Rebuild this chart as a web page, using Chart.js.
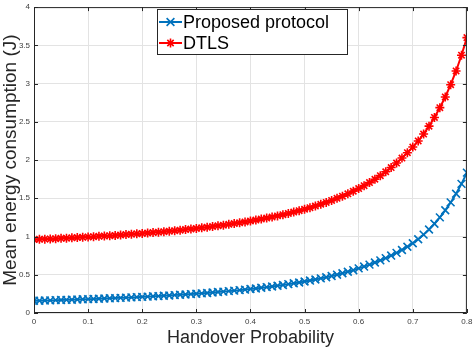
<!DOCTYPE html>
<html>
<head>
<meta charset="utf-8">
<script src="https://cdn.jsdelivr.net/npm/chart.js@4.4.1/dist/chart.umd.min.js"></script>
<style>
html, body { margin: 0; padding: 0; background: #fff; }
</style>
</head>
<body>
<canvas id="energyChart" width="474" height="348"></canvas>
<script>
/* data */

let handoverProb = [
    0.00,0.01,0.02,0.03,0.04,0.05,0.06,0.07,0.08,0.09,
    0.10,0.11,0.12,0.13,0.14,0.15,0.16,0.17,0.18,0.19,
    0.20,0.21,0.22,0.23,0.24,0.25,0.26,0.27,0.28,0.29,
    0.30,0.31,0.32,0.33,0.34,0.35,0.36,0.37,0.38,0.39,
    0.40,0.41,0.42,0.43,0.44,0.45,0.46,0.47,0.48,0.49,
    0.50,0.51,0.52,0.53,0.54,0.55,0.56,0.57,0.58,0.59,
    0.60,0.61,0.62,0.63,0.64,0.65,0.66,0.67,0.68,0.69,
    0.70,0.71,0.72,0.73,0.74,0.75,0.76,0.77,0.78,0.79,
    0.80
];

let proposedEnergy = [
    0.160,0.161,0.163,0.165,0.168,0.170,0.172,0.174,0.176,0.179,
    0.181,0.184,0.186,0.189,0.192,0.195,0.198,0.201,0.204,0.207,
    0.211,0.214,0.218,0.221,0.225,0.229,0.234,0.238,0.242,0.247,
    0.252,0.257,0.262,0.268,0.274,0.280,0.286,0.292,0.299,0.306,
    0.314,0.321,0.330,0.338,0.347,0.356,0.366,0.377,0.388,0.399,
    0.412,0.424,0.438,0.453,0.468,0.484,0.501,0.520,0.539,0.560,
    0.583,0.607,0.633,0.660,0.688,0.718,0.751,0.786,0.824,0.866,
    0.912,0.965,1.025,1.092,1.167,1.250,1.343,1.446,1.560,1.689,
    1.835
];

let dtlsEnergy = [
    0.960,0.963,0.966,0.969,0.972,0.976,0.979,0.983,0.986,0.990,
    0.994,0.998,1.002,1.006,1.011,1.015,1.020,1.025,1.030,1.035,
    1.040,1.046,1.052,1.057,1.064,1.070,1.077,1.083,1.091,1.098,
    1.106,1.114,1.122,1.131,1.140,1.149,1.159,1.169,1.180,1.191,
    1.203,1.215,1.228,1.241,1.255,1.270,1.286,1.302,1.320,1.338,
    1.357,1.377,1.399,1.422,1.446,1.472,1.499,1.528,1.559,1.592,
    1.627,1.665,1.705,1.749,1.796,1.847,1.902,1.961,2.026,2.096,
    2.170,2.250,2.340,2.443,2.557,2.685,2.825,2.985,3.165,3.371,
    3.601
];

let xTicks = [0,0.1,0.2,0.3,0.4,0.5,0.6,0.7,0.8];
let xTickLabels = ["0","0.1","0.2","0.3","0.4","0.5","0.6","0.7","0.8"];
let yTicks = [0,0.5,1,1.5,2,2.5,3,3.5,4];
let yTickLabels = ["0","0.5","1","1.5","2","2.5","3","3.5","4"];

let seriesNames = ["Proposed protocol","DTLS"];


const FONT = "'Liberation Sans', Arial, Helvetica, sans-serif";
const BLUE = "#0072BD";
const RED = "#FF0000";
const AXIS = "#262626";


/* marker helpers for the legend */

function drawCrossRot(ctx, x, y, r)
{
    ctx.beginPath();
    ctx.moveTo(x-r*0.707, y-r*0.707); ctx.lineTo(x+r*0.707, y+r*0.707);
    ctx.moveTo(x+r*0.707, y-r*0.707); ctx.lineTo(x-r*0.707, y+r*0.707);
    ctx.stroke();
}

function drawStar(ctx, x, y, r)
{
    ctx.beginPath();
    ctx.moveTo(x-r, y); ctx.lineTo(x+r, y);
    ctx.moveTo(x, y-r); ctx.lineTo(x, y+r);
    let d = r*0.707;
    ctx.moveTo(x-d, y-d); ctx.lineTo(x+d, y+d);
    ctx.moveTo(x+d, y-d); ctx.lineTo(x-d, y+d);
    ctx.stroke();
}


/* matlab style box, inward ticks and legend */

const matlabBox = {
    id: "matlabBox",
    afterDraw(chart)
    {
        const ctx = chart.ctx;
        const a = chart.chartArea;
        const xs = chart.scales.x;
        const ys = chart.scales.y;

        ctx.save();
        ctx.strokeStyle = AXIS;
        ctx.lineWidth = 1;
        ctx.strokeRect(a.left + 0.5, a.top + 0.5, a.right - a.left - 1, a.bottom - a.top - 1);

        ctx.beginPath();
        xTicks.forEach(v => {
            let px = Math.round(xs.getPixelForValue(v)) + 0.5;
            ctx.moveTo(px, a.bottom); ctx.lineTo(px, a.bottom - 4);
            ctx.moveTo(px, a.top); ctx.lineTo(px, a.top + 4);
        });
        yTicks.forEach(v => {
            let py = Math.round(ys.getPixelForValue(v)) + 0.5;
            ctx.moveTo(a.left, py); ctx.lineTo(a.left + 4, py);
            ctx.moveTo(a.right, py); ctx.lineTo(a.right - 4, py);
        });
        ctx.stroke();

        // legend
        let lx = 157, ly = 9, lw = 190, lh = 45;
        ctx.fillStyle = "#fff";
        ctx.fillRect(lx, ly, lw, lh);
        ctx.strokeStyle = AXIS;
        ctx.strokeRect(lx + 0.5, ly + 0.5, lw, lh);

        let rows = [ly + 13, ly + 34];
        let colors = [BLUE, RED];
        ctx.font = "18px " + FONT;
        ctx.textBaseline = "middle";
        ctx.textAlign = "left";
        rows.forEach((ry, i) => {
            ctx.strokeStyle = colors[i];
            ctx.lineWidth = 2;
            ctx.beginPath();
            ctx.moveTo(lx + 2, ry); ctx.lineTo(lx + 25, ry);
            ctx.stroke();
            ctx.lineWidth = 1.6;
            if (i === 0) drawCrossRot(ctx, lx + 13.5, ry, 5.5);
            else drawStar(ctx, lx + 13.5, ry, 4.5);
            ctx.fillStyle = "#000";
            ctx.fillText(seriesNames[i], lx + 26, ry + 1);
        });
        ctx.restore();
    }
};


/* CHART */

const energyChart = new Chart(
    document.getElementById("energyChart"),
    {
        type: "line",
        data: {
            datasets: [
                {
                    label: seriesNames[0],
                    data: handoverProb.map((p, i) => ({ x: p, y: proposedEnergy[i] })),
                    borderColor: BLUE,
                    backgroundColor: BLUE,
                    borderWidth: 2,
                    pointStyle: "crossRot",
                    pointRadius: 5.5,
                    pointBorderWidth: 1.6,
                    pointBorderColor: BLUE,
                    fill: false,
                    tension: 0
                },
                {
                    label: seriesNames[1],
                    data: handoverProb.map((p, i) => ({ x: p, y: dtlsEnergy[i] })),
                    borderColor: RED,
                    backgroundColor: RED,
                    borderWidth: 2,
                    pointStyle: "star",
                    pointRadius: 4.5,
                    pointBorderWidth: 1.6,
                    pointBorderColor: RED,
                    fill: false,
                    tension: 0
                }
            ]
        },
        options: {
            responsive: false,
            animation: false,
            devicePixelRatio: 1,
            layout: {
                padding: { top: 5, right: 4, left: 0, bottom: 0 }
            },
            plugins: {
                legend: { display: false },
                tooltip: { enabled: false }
            },
            scales: {
                x: {
                    type: "linear",
                    min: 0,
                    max: 0.8,
                    afterBuildTicks: s => { s.ticks = xTicks.map(v => ({ value: v })); },
                    afterFit: s => { s.height = 35; s.paddingLeft = 0; s.paddingRight = 0; },
                    ticks: {
                        autoSkip: false,
                        maxRotation: 0,
                        padding: 4,
                        color: "#404040",
                        font: { family: FONT, size: 8 },
                        callback: (v, i) => xTickLabels[i]
                    },
                    grid: { color: "#e3e3e3", drawTicks: false },
                    border: { display: false },
                    title: {
                        display: true,
                        text: "Handover Probability",
                        color: AXIS,
                        font: { family: FONT, size: 18, lineHeight: 1 },
                        padding: { top: 0, bottom: 1 }
                    }
                },
                y: {
                    min: 0,
                    max: 4,
                    afterBuildTicks: s => { s.ticks = yTicks.map(v => ({ value: v })); },
                    afterFit: s => { s.width = 34; s.paddingTop = 0; s.paddingBottom = 0; },
                    ticks: {
                        autoSkip: false,
                        padding: 4,
                        color: "#404040",
                        font: { family: FONT, size: 8 },
                        callback: (v, i) => yTickLabels[i]
                    },
                    grid: { color: "#e3e3e3", drawTicks: false },
                    border: { display: false },
                    title: {
                        display: true,
                        text: "Mean energy consumption (J)",
                        color: AXIS,
                        font: { family: FONT, size: 19, lineHeight: 1 },
                        padding: { top: 1, bottom: 0 }
                    }
                }
            }
        },
        plugins: [matlabBox]
    }
);
</script>
</body>
</html>
